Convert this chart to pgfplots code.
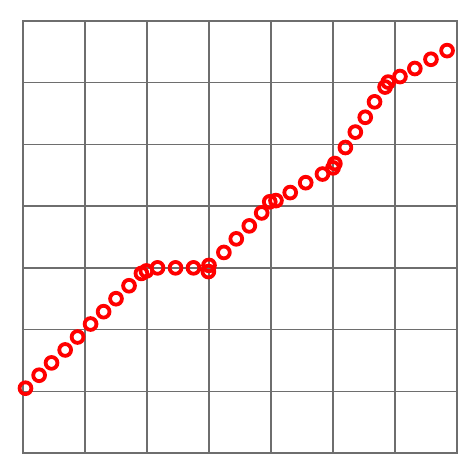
\documentclass[border=0pt]{standalone}
\usepackage{pgfplots}
\pgfplotsset{compat=1.18}
\definecolor{gridgray}{RGB}{110,110,110}
\pgfdeclareplotmark{ring}{%
  \pgfsetlinewidth{3.8pt}%
  \pgfpathcircle{\pgfpointorigin}{5.9pt}%
  \pgfusepathqstroke}
\begin{document}
\begin{tikzpicture}
\begin{axis}[
  at={(23pt,21pt)}, anchor=south west,
  scale only axis, width=434pt, height=432pt,
  xmin=0, xmax=7, ymin=0, ymax=7,
  xtick={0,...,7}, ytick={0,...,7},
  xticklabels={}, yticklabels={},
  major tick length=0pt,
  grid=major,
  grid style={gridgray, line width=1.5pt},
  axis line style={gridgray, line width=1.5pt},
  clip=false,
]
\addplot[only marks, mark=ring, draw=red, color=red] coordinates {
(0.04,1.05) (0.26,1.26) (0.46,1.46) (0.68,1.67) (0.88,1.88) (1.09,2.09)
(1.30,2.29) (1.50,2.50) (1.71,2.71) (1.91,2.91) (1.99,2.95) (2.17,3.00)
(2.46,3.00) (2.75,3.00) (3.00,3.04) (2.99,2.94) (3.24,3.25) (3.44,3.47)
(3.65,3.68) (3.85,3.89) (3.98,4.07) (4.08,4.09) (4.31,4.22) (4.56,4.38)
(4.83,4.52) (5.00,4.62) (5.03,4.69) (5.20,4.95) (5.36,5.20) (5.52,5.44)
(5.67,5.69) (5.84,5.93) (5.89,6.01) (6.08,6.10) (6.32,6.23) (6.58,6.38)
(6.84,6.52)
};
\end{axis}
\path (0,0) (474pt,474pt);
\end{tikzpicture}
\end{document}
